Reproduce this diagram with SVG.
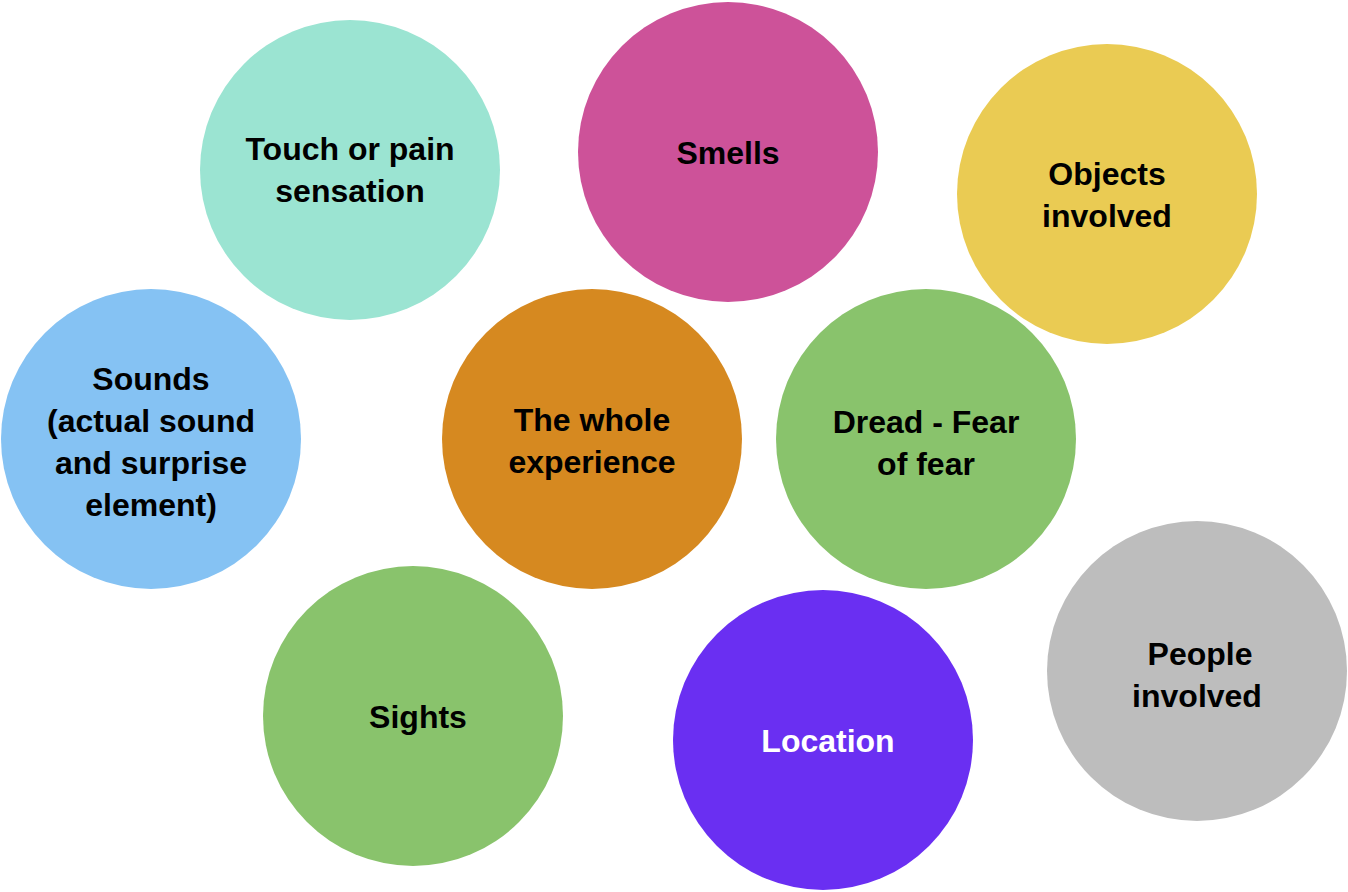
<svg xmlns="http://www.w3.org/2000/svg" width="1348" height="892" viewBox="0 0 1348 892">
<style>
text{font-family:"Liberation Sans",Arial,sans-serif;font-weight:bold;font-size:32px;text-anchor:middle;fill:#000}
</style>
<rect width="1348" height="892" fill="#fff"/>
<g id="touch"><circle cx="350" cy="170" r="150" fill="#9be4d2"/><text x="350" y="160">Touch or pain</text><text x="350" y="202">sensation</text></g>
<g id="smells"><circle cx="728" cy="152" r="150" fill="#cd5299"/><text x="728" y="164">Smells</text></g>
<g id="objects"><circle cx="1107" cy="194" r="150" fill="#eacb53"/><text x="1107" y="185">Objects</text><text x="1107" y="227">involved</text></g>
<g id="sounds"><circle cx="151" cy="439" r="150" fill="#85c2f3"/><text x="151" y="390">Sounds</text><text x="151" y="432">(actual sound</text><text x="151" y="474">and surprise</text><text x="151" y="516">element)</text></g>
<g id="whole"><circle cx="592" cy="439" r="150" fill="#d68920"/><text x="592" y="431">The whole</text><text x="592" y="473">experience</text></g>
<g id="dread"><circle cx="926" cy="439" r="150" fill="#89c36c"/><text x="926" y="433">Dread - Fear</text><text x="926" y="475">of fear</text></g>
<g id="sights"><circle cx="413" cy="716" r="150" fill="#89c36c"/><text x="418" y="728">Sights</text></g>
<g id="location"><circle cx="823" cy="740" r="150" fill="#6a2ff2"/><text x="828" y="752" style="fill:#fff">Location</text></g>
<g id="people"><circle cx="1197" cy="671" r="150" fill="#bdbdbd"/><text x="1200" y="665">People</text><text x="1197" y="707">involved</text></g>
<g id="connectors"/>
</svg>
